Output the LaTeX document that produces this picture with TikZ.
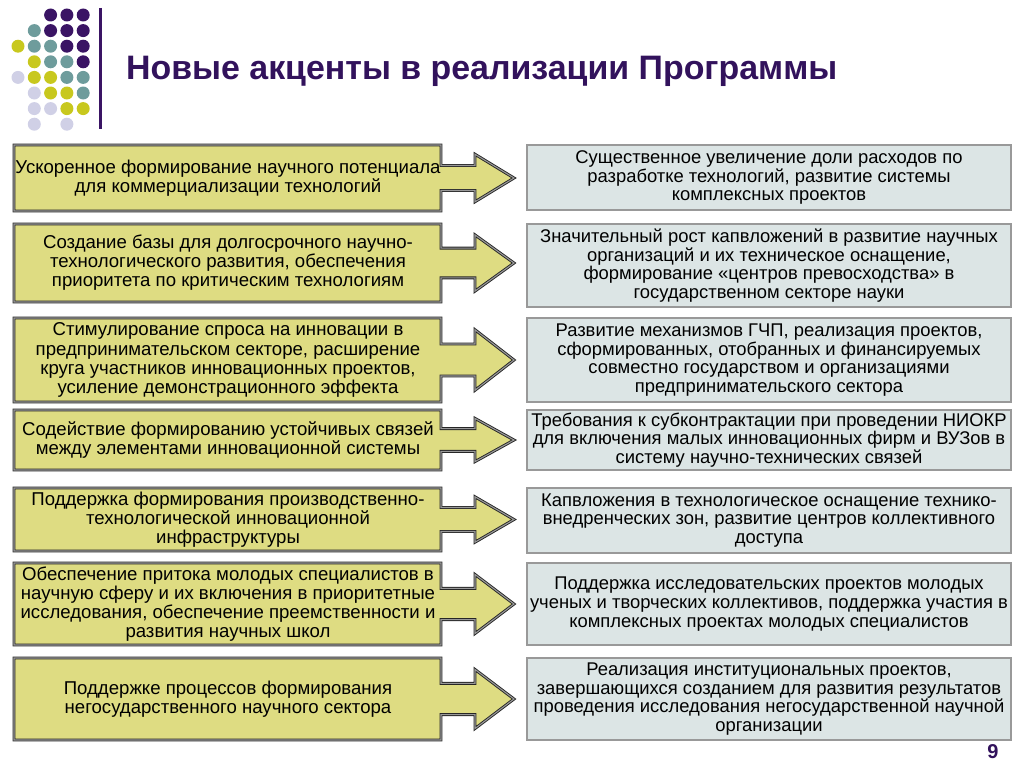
\documentclass[tikz,border=0pt]{standalone}
\usepackage{fontspec}
\setmainfont{Liberation Sans}
\definecolor{dP}{RGB}{58,20,100}
\definecolor{dT}{RGB}{110,156,156}
\definecolor{dY}{RGB}{200,200,30}
\definecolor{dL}{RGB}{208,208,230}
\definecolor{titlec}{RGB}{50,18,92}
\definecolor{lfill}{RGB}{222,220,130}
\definecolor{rfill}{RGB}{220,229,229}
\tikzset{
  boxline/.style={draw=black!85, double=black!40, double distance=1.1pt, line width=0.9pt},
  lt/.style={align=center, inner sep=0pt, font=\fontsize{18.6}{19.1}\selectfont},
  rt/.style={align=center, inner sep=0pt, font=\fontsize{18.4}{18.8}\selectfont},
  dot/.style={circle, inner sep=0pt, minimum size=13pt},
}
\newcommand\lbox[4]{%
  \pgfmathsetmacro\mycen{(#1+#2)/2}%
  \pgfmathsetmacro\myh{#2-#1}%
  \pgfmathsetmacro\mysh{0.19*\myh}%
  \pgfmathsetmacro\myhh{0.36*\myh}%
  \filldraw[boxline, fill=lfill] (14,#1) -- (441,#1) -- (441,\mycen-\mysh) -- (475,\mycen-\mysh) -- (475,\mycen-\myhh) -- (514,\mycen) -- (475,\mycen+\myhh) -- (475,\mycen+\mysh) -- (441,\mycen+\mysh) -- (441,#2) -- (14,#2) -- cycle;
  \node[lt] (#3) at (228,\mycen) {#4};
}
\newcommand\rbox[4]{%
  \pgfmathsetmacro\mycen{(#1+#2)/2}%
  \filldraw[boxline, fill=rfill] (527,#1) rectangle (1011,#2);
  \node[rt] (#3) at (769,\mycen) {#4};
}
\begin{document}
\begin{tikzpicture}[x=1pt,y=-1pt]
\useasboundingbox (0,0) rectangle (1024,768);
% dots
\foreach \cx/\ry/\col in {2/0/dP,3/0/dP,4/0/dP,
  1/1/dT,2/1/dP,3/1/dP,4/1/dP,
  0/2/dY,1/2/dT,2/2/dT,3/2/dP,4/2/dP,
  1/3/dY,2/3/dT,3/3/dT,4/3/dP,
  0/4/dL,1/4/dY,2/4/dY,3/4/dT,4/4/dT,
  1/5/dL,2/5/dY,3/5/dY,4/5/dT,
  1/6/dL,2/6/dL,3/6/dY,4/6/dY,
  1/7/dL,3/7/dL}
  \node[dot, fill=\col] (d\cx\ry) at (18+16.3*\cx, 15+15.6*\ry) {};
\draw[dP, line width=3pt] (100,8) -- (100,129);
\node[anchor=west, inner sep=0pt, text=titlec, font=\fontsize{33.9}{38}\selectfont\bfseries] (title) at (126,71) {Новые акценты в реализации Программы};
% left boxes
\lbox{145}{211}{l1}{Ускоренное формирование научного потенциала\\для коммерциализации технологий}
\lbox{224}{302}{l2}{Создание базы для долгосрочного научно-\\технологического развития, обеспечения\\приоритета по критическим технологиям}
\lbox{318}{402}{l3}{Стимулирование спроса на инновации в\\предпринимательском секторе, расширение\\круга участников инновационных проектов,\\усиление демонстрационного эффекта}
\lbox{410}{470}{l4}{Содействие формированию устойчивых связей\\между элементами инновационной системы}
\lbox{488}{551}{l5}{Поддержка формирования производственно-\\технологической инновационной\\инфраструктуры}
\lbox{563}{645}{l6}{Обеспечение притока молодых специалистов в\\научную сферу и их включения в приоритетные\\исследования, обеспечение преемственности и\\развития научных школ}
\lbox{658}{740}{l7}{Поддержке процессов формирования\\негосударственного научного сектора}
% right boxes
\rbox{145}{210}{r1}{Существенное увеличение доли расходов по\\разработке технологий, развитие системы\\комплексных проектов}
\rbox{224}{307}{r2}{Значительный рост капвложений в развитие научных\\организаций и их техническое оснащение,\\формирование «центров превосходства» в\\государственном секторе науки}
\rbox{318}{402}{r3}{Развитие механизмов ГЧП, реализация проектов,\\сформированных, отобранных и финансируемых\\совместно государством и организациями\\предпринимательского сектора}
\rbox{410}{470}{r4}{Требования к субконтрактации при проведении НИОКР\\для включения малых инновационных фирм и ВУЗов в\\систему научно-технических связей}
\rbox{488}{553}{r5}{Капвложения в технологическое оснащение технико-\\внедренческих зон, развитие центров коллективного\\доступа}
\rbox{563}{645}{r6}{Поддержка исследовательских проектов молодых\\ученых и творческих коллективов, поддержка участия в\\комплексных проектах молодых специалистов}
\rbox{658}{740}{r7}{Реализация институциональных проектов,\\завершающихся созданием для развития результатов\\проведения исследования негосударственной научной\\организации}
\node[text=titlec, font=\fontsize{20}{22}\selectfont\bfseries, inner sep=0pt] (pg) at (993,752) {9};
\end{tikzpicture}
\end{document}
